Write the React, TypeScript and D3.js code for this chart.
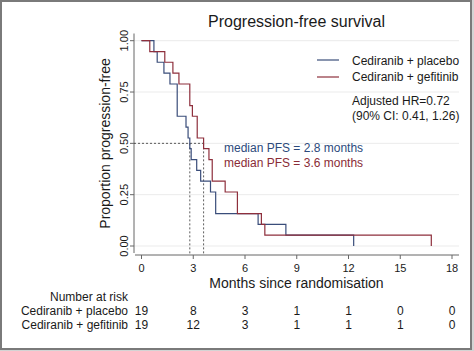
import * as d3 from "d3";

// risk table timepoints and counts
const riskTimes = [0, 3, 6, 9, 12, 15, 18];
const riskPlacebo = [19, 8, 3, 1, 1, 0, 0];
const riskGefitinib = [19, 12, 3, 1, 1, 1, 0];

// KM step points (month, proportion progression-free)
const placeboT = [0, 0.72, 0.91, 1.3, 1.65, 2.07, 2.58, 2.7, 2.8, 2.88, 3.2, 3.43, 4.0, 4.3, 6.76, 8.37, 12.3];
const placeboS = [1, 0.947, 0.895, 0.842, 0.789, 0.632, 0.579, 0.526, 0.474, 0.421, 0.368, 0.316, 0.263, 0.158, 0.105, 0.053, 0];
const gefitinibT = [0, 0.48, 1.35, 1.82, 2.17, 2.8, 2.95, 3.23, 3.6, 3.91, 4.1, 4.85, 5.56, 6.95, 7.15, 16.8];
const gefitinibS = [1, 0.947, 0.895, 0.842, 0.789, 0.684, 0.632, 0.526, 0.474, 0.421, 0.316, 0.263, 0.158, 0.105, 0.053, 0];

const medians = [2.8, 3.6];
const yTicks = [0, 0.25, 0.5, 0.75, 1];
const xTicks = [0, 3, 6, 9, 12, 15, 18];

const BLUE = "#3a4d7a";
const RED = "#8e2f3c";
const FONT = "'Liberation Sans', Arial, sans-serif";

export default function App() {
  const x = d3.scaleLinear().domain([0, 18]).range([141.5, 452]);
  const y = d3.scaleLinear().domain([0, 1]).range([246, 40.7]);

  const line = d3
    .line<[number, number]>()
    .x((d) => x(d[0]))
    .y((d) => y(d[1]))
    .curve(d3.curveStepAfter);

  const placebo = placeboT.map((t, i) => [t, placeboS[i]] as [number, number]);
  const gefitinib = gefitinibT.map((t, i) => [t, gefitinibS[i]] as [number, number]);

  const axisLeft = 134;
  const axisBottom = 255;

  return (
    <svg
      width={474}
      height={351}
      style={{ position: "absolute", left: 0, top: 0, fontFamily: FONT }}
    >
      <rect x={0} y={0} width={474} height={351} fill="#d4d4d4" />
      <rect x={1} y={1} width={470} height={348} fill="#fff" stroke="#7a7a7a" strokeWidth={2} />

      <text x={296.5} y={27} textAnchor="middle" fontSize={16} fill="#1a1a1a">
        Progression-free survival
      </text>

      {/* gridlines */}
      {yTicks.map((t) => (
        <line key={"g" + t} x1={axisLeft} x2={459} y1={y(t)} y2={y(t)} stroke="#ebebeb" strokeWidth={1} />
      ))}

      {/* y axis */}
      <line x1={axisLeft} x2={axisLeft} y1={33.5} y2={253} stroke="#666" strokeWidth={1} />
      {yTicks.map((t) => (
        <g key={"y" + t}>
          <line x1={axisLeft - 4} x2={axisLeft} y1={y(t)} y2={y(t)} stroke="#666" />
          <text
            transform={`translate(127.5,${y(t)}) rotate(-90)`}
            textAnchor="middle"
            fontSize={11}
            fill="#1a1a1a"
          >
            {d3.format(".2f")(t)}
          </text>
        </g>
      ))}
      <text
        transform="translate(110,143.5) rotate(-90)"
        textAnchor="middle"
        fontSize={14}
        fill="#1a1a1a"
      >
        Proportion progression-free
      </text>

      {/* x axis */}
      <line x1={135} x2={459} y1={axisBottom} y2={axisBottom} stroke="#666" strokeWidth={1} />
      {xTicks.map((t) => (
        <g key={"x" + t}>
          <line x1={x(t)} x2={x(t)} y1={axisBottom} y2={axisBottom + 4} stroke="#666" />
          <text x={x(t)} y={272} textAnchor="middle" fontSize={11} fill="#1a1a1a">
            {t}
          </text>
        </g>
      ))}
      <text x={296.5} y={288} textAnchor="middle" fontSize={14} fill="#1a1a1a">
        Months since randomisation
      </text>

      {/* median reference lines */}
      <line
        x1={axisLeft}
        x2={x(d3.max(medians)!)}
        y1={y(0.5)}
        y2={y(0.5)}
        stroke="#333"
        strokeWidth={0.8}
        strokeDasharray="2,2"
      />
      {medians.map((m) => (
        <line
          key={"m" + m}
          x1={x(m)}
          x2={x(m)}
          y1={y(0.5)}
          y2={axisBottom}
          stroke="#333"
          strokeWidth={0.8}
          strokeDasharray="2,2"
        />
      ))}

      {/* curves */}
      <path d={line(placebo)!} fill="none" stroke={BLUE} strokeWidth={1.2} />
      <path d={line(gefitinib)!} fill="none" stroke={RED} strokeWidth={1.2} />

      {/* legend */}
      <line x1={317} x2={339} y1={60} y2={60} stroke={BLUE} strokeWidth={1.2} />
      <line x1={317} x2={339} y1={77} y2={77} stroke={RED} strokeWidth={1.2} />
      <text x={352} y={64.5} fontSize={12} fill="#1a1a1a">Cediranib + placebo</text>
      <text x={352} y={81} fontSize={12} fill="#1a1a1a">Cediranib + gefitinib</text>
      <text x={352} y={104.5} fontSize={12} fill="#1a1a1a">Adjusted HR=0.72</text>
      <text x={352} y={120} fontSize={12} fill="#1a1a1a">(90% CI: 0.41, 1.26)</text>

      <text x={224} y={152} fontSize={12} fill="#2c4a7c">median PFS = 2.8 months</text>
      <text x={224} y={167} fontSize={12} fill="#8a2c36">median PFS = 3.6 months</text>

      {/* number at risk */}
      <text x={128} y={301} textAnchor="end" fontSize={12} fill="#1a1a1a">Number at risk</text>
      <text x={128} y={315} textAnchor="end" fontSize={12} fill="#1a1a1a">Cediranib + placebo</text>
      <text x={128} y={329} textAnchor="end" fontSize={12} fill="#1a1a1a">Cediranib + gefitinib</text>
      {riskTimes.map((t, i) => (
        <g key={"r" + t}>
          <text x={x(t)} y={315} textAnchor="middle" fontSize={12} fill="#1a1a1a">{riskPlacebo[i]}</text>
          <text x={x(t)} y={329} textAnchor="middle" fontSize={12} fill="#1a1a1a">{riskGefitinib[i]}</text>
        </g>
      ))}
    </svg>
  );
}
